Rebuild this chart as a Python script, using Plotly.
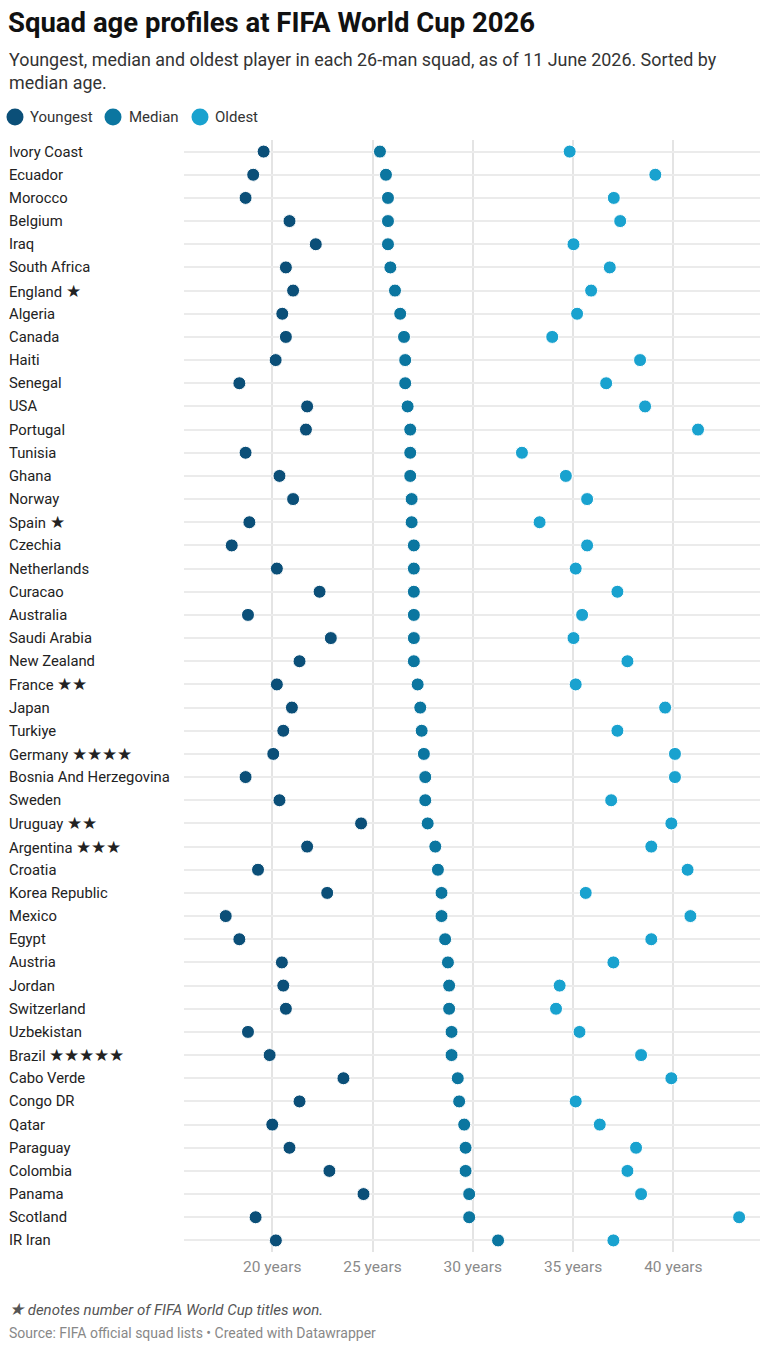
import plotly.graph_objects as go

countries = [
    "Ivory Coast", "Ecuador", "Morocco", "Belgium", "Iraq", "South Africa", "England ★",
    "Algeria", "Canada", "Haiti", "Senegal", "USA", "Portugal", "Tunisia", "Ghana",
    "Norway", "Spain ★", "Czechia", "Netherlands", "Curacao", "Australia", "Saudi Arabia",
    "New Zealand", "France ★★", "Japan", "Turkiye", "Germany ★★★★", "Bosnia And Herzegovina",
    "Sweden", "Uruguay ★★", "Argentina ★★★", "Croatia", "Korea Republic", "Mexico", "Egypt",
    "Austria", "Jordan", "Switzerland", "Uzbekistan", "Brazil ★★★★★", "Cabo Verde",
    "Congo DR", "Qatar", "Paraguay", "Colombia", "Panama", "Scotland", "IR Iran",
]

youngest = [
    19.57, 19.05, 18.67, 20.86, 22.17, 20.68, 21.04,
    20.50, 20.68, 20.17, 18.36, 21.74, 21.68, 18.67, 20.36,
    21.04, 18.86, 17.98, 20.23, 22.36, 18.79, 22.92,
    21.36, 20.23, 20.98, 20.55, 20.05, 18.67,
    20.36, 24.43, 21.74, 19.29, 22.74, 17.68, 18.36,
    20.48, 20.55, 20.68, 18.79, 19.87, 23.55,
    21.36, 20.00, 20.86, 22.85, 24.55, 19.17, 20.18,
]

median = [
    25.37, 25.67, 25.77, 25.77, 25.77, 25.89, 26.12,
    26.38, 26.57, 26.63, 26.63, 26.75, 26.88, 26.88, 26.88,
    26.95, 26.95, 27.06, 27.06, 27.06, 27.06, 27.06,
    27.06, 27.25, 27.38, 27.45, 27.56, 27.63,
    27.63, 27.75, 28.13, 28.26, 28.44, 28.44, 28.62,
    28.76, 28.82, 28.82, 28.94, 28.94, 29.25,
    29.32, 29.57, 29.64, 29.64, 29.82, 29.82, 31.26,
]

oldest = [
    34.83, 39.10, 37.03, 37.35, 35.02, 36.83, 35.90,
    35.20, 33.96, 38.34, 36.65, 38.59, 41.23, 32.45, 34.64,
    35.70, 33.33, 35.70, 35.13, 37.21, 35.45, 35.02,
    37.71, 35.13, 39.59, 37.21, 40.08, 40.08,
    36.90, 39.90, 38.90, 40.71, 35.63, 40.85, 38.90,
    37.01, 34.33, 34.15, 35.32, 38.39, 39.90,
    35.13, 36.33, 38.14, 37.71, 38.39, 43.28, 37.01,
]

tick_values = [20, 25, 30, 35, 40]
tick_labels = ["20 years", "25 years", "30 years", "35 years", "40 years"]

series_names = ["Youngest", "Median", "Oldest"]
series_colors = ["#0b4f78", "#0b76a0", "#19a2cf"]

FONT = "Roboto, 'Noto Sans', sans-serif"
W, H = 768, 1348
ML, MR, MT, MB = 184, 8, 140, 96
plot_w = W - ML - MR
plot_h = H - MT - MB
STAR = '<span style="font-size:17px">★</span>'


def px_to_paper_x(px):
    return (px - ML) / plot_w


def px_to_paper_y(py):
    return (H - MB - py) / plot_h


fig = go.Figure()

for name, vals, col in zip(series_names, [youngest, median, oldest], series_colors):
    fig.add_trace(go.Scatter(
        x=vals, y=countries, mode="markers", name=name, showlegend=False,
        marker=dict(size=13, color=col, line=dict(color="white", width=1)),
        hovertemplate="%{y}: %{x:.1f}<extra>" + name + "</extra>",
    ))

annotations = []
shapes = []

# manual legend (layout positions in pixels)
legend_circle_centers = [15, 113, 200]
legend_text_starts = [29, 128, 214]
legend_y = 117
r = 8.5
for name, col, cx, tx in zip(series_names, series_colors, legend_circle_centers, legend_text_starts):
    shapes.append(dict(
        type="circle", xref="paper", yref="paper",
        x0=px_to_paper_x(cx - r), x1=px_to_paper_x(cx + r),
        y0=px_to_paper_y(legend_y + r), y1=px_to_paper_y(legend_y - r),
        fillcolor=col, line=dict(width=0),
    ))
    annotations.append(dict(
        x=px_to_paper_x(tx - 1), xref="paper", xanchor="left",
        y=px_to_paper_y(legend_y), yref="paper", yanchor="middle",
        text=name, showarrow=False,
        font=dict(family=FONT, size=15, color="#333333"),
    ))

for c in countries:
    annotations.append(dict(
        x=px_to_paper_x(7), xref="paper", xanchor="left",
        y=c, yref="y", yanchor="middle",
        text=c.replace("★", STAR), showarrow=False,
        font=dict(family=FONT, size=14.8, color="#222222"),
    ))

annotations.append(dict(
    x=px_to_paper_x(7), xref="paper", xanchor="left",
    y=px_to_paper_y(71), yref="paper", yanchor="middle",
    text="Youngest, median and oldest player in each 26-man squad, as of 11 June 2026. Sorted by<br>median age.",
    showarrow=False, align="left",
    font=dict(family=FONT, size=17.9, color="#333333"),
))
annotations.append(dict(
    x=px_to_paper_x(7), xref="paper", xanchor="left",
    y=px_to_paper_y(1309), yref="paper", yanchor="middle",
    text="<i>" + STAR + " denotes number of FIFA World Cup titles won.</i>",
    showarrow=False, align="left",
    font=dict(family=FONT, size=15, color="#555555"),
))
annotations.append(dict(
    x=px_to_paper_x(7), xref="paper", xanchor="left",
    y=px_to_paper_y(1333), yref="paper", yanchor="middle",
    text="Source: FIFA official squad lists • Created with Datawrapper",
    showarrow=False, align="left",
    font=dict(family=FONT, size=14, color="#888888"),
))

fig.update_layout(
    width=W, height=H,
    margin=dict(l=ML, r=MR, t=MT, b=MB, autoexpand=False),
    paper_bgcolor="white", plot_bgcolor="white",
    title=dict(
        text="<b>Squad age profiles at FIFA World Cup 2026</b>",
        x=8 / W, xref="container", xanchor="left",
        y=1 - 22 / H, yref="container", yanchor="middle",
        font=dict(family=FONT, size=27.5, color="#111111"),
    ),
    showlegend=False,
    xaxis=dict(
        range=[15.6, 44.32],
        tickvals=tick_values, ticktext=tick_labels,
        showgrid=True, gridcolor="#e4e4e4", gridwidth=1.5,
        zeroline=False, showline=False, ticks="",
        tickfont=dict(family=FONT, size=15.5, color="#8a8a8a"),
        ticklabelstandoff=3,
        fixedrange=True,
    ),
    yaxis=dict(
        type="category", categoryorder="array", categoryarray=countries,
        range=[len(countries) - 0.5, -0.5],
        showticklabels=False, showgrid=True, gridcolor="#ebebeb", gridwidth=1.5,
        zeroline=False, showline=False, ticks="",
        fixedrange=True,
    ),
    annotations=annotations,
    shapes=shapes,
)

fig.write_html("out.html")
